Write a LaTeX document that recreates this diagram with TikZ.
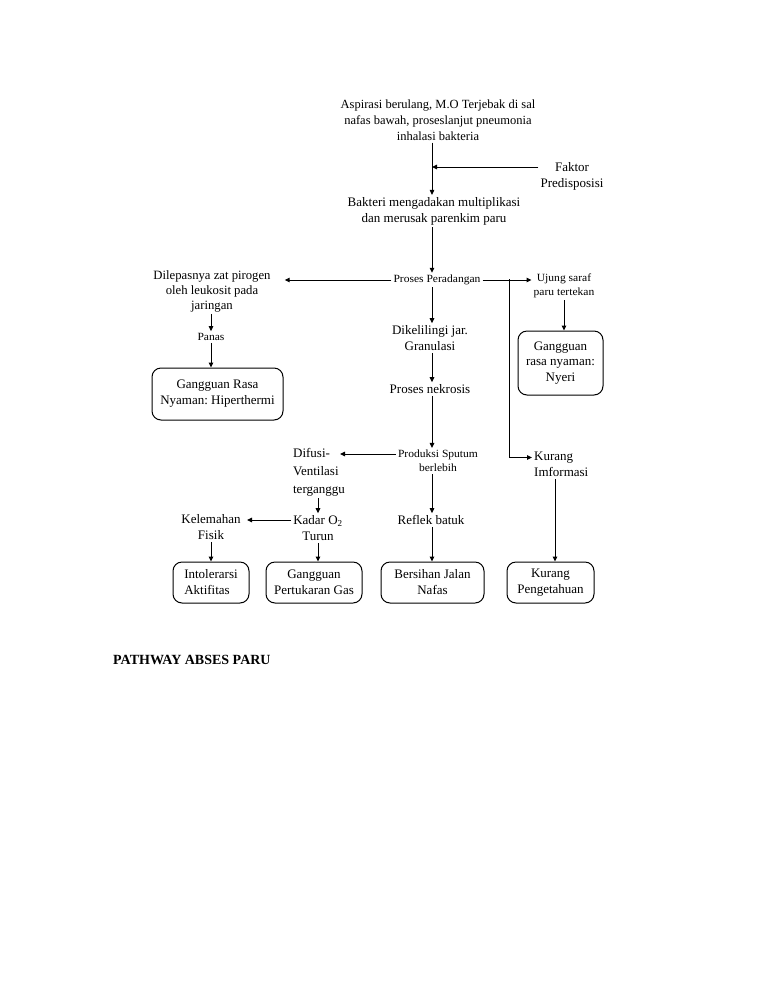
\documentclass[tikz,border=0pt]{standalone}
\usepackage{fontspec}
\setmainfont{Liberation Serif}
\newfontfamily\widefont[FakeStretch=1.05]{Liberation Serif}
\usetikzlibrary{arrows.meta}
\frenchspacing
\begin{document}
\begin{tikzpicture}[x=1pt,y=-1pt,
  txt/.style={align=center,font=\fontsize{13}{16}\selectfont,inner sep=2pt},
  sml/.style={align=center,font=\widefont\fontsize{11}{14}\selectfont,inner sep=2pt},
  rbox/.style={draw,rounded corners=9pt,line width=1pt,align=center,font=\fontsize{13}{16}\selectfont,minimum height=41pt,inner sep=2pt},
  arr/.style={line width=1pt,-{Triangle[length=5pt,width=4.5pt]}},
  ttl/.style={font=\bfseries\fontsize{14}{16}\selectfont,anchor=west,inner sep=0pt}]
\useasboundingbox (0,0) rectangle (768,994);
% helper coordinates
\coordinate (cx) at (432,0);
\coordinate (j1) at (432,167);
\coordinate (br) at (509,279);
\coordinate (d1) at (340,454);
\coordinate (k2) at (247,520);
\coordinate (k3) at (555,0);
% nodes
\node[txt,font=\fontsize{12.5}{16}\selectfont] (top) at (438,120) {Aspirasi berulang, M.O Terjebak di sal\\nafas bawah, proseslanjut pneumonia\\inhalasi bakteria};
\node[txt] (faktor) at (572,176) {Faktor\\Predisposisi};
\node[txt] (bakteri) at (434,211) {Bakteri mengadakan multiplikasi\\dan merusak parenkim paru};
\node[sml] (perad) at (437,280) {Proses Peradangan};
\node[txt,font=\fontsize{12.7}{15}\selectfont] (dilep) at (212,291) {Dilepasnya zat pirogen\\oleh leukosit pada\\jaringan};
\node[sml] (panas) at (211,337) {Panas};
\node[rbox,minimum width=131pt,minimum height=52pt] (hiper) at (217.5,394) {Gangguan Rasa\\Nyaman: Hiperthermi};
\node[sml] (ujung) at (564,286) {Ujung saraf\\paru tertekan};
\node[rbox,minimum width=85pt,minimum height=64pt,font=\fontsize{13}{15.5}\selectfont] (nyeri) at (560.5,363) {Gangguan\\rasa nyaman:\\Nyeri};
\node[txt] (dikel) at (430,338) {Dikelilingi jar.\\Granulasi};
\node[txt] (nekr) at (430,389) {Proses nekrosis};
\node[sml] (sputum) at (438,461) {Produksi Sputum\\berlebih};
\node[txt,align=left,font=\fontsize{13}{18}\selectfont] (difusi) at (319,472) {Difusi-\\Ventilasi\\terganggu};
\node[txt] (kadar) at (318,528) {Kadar O\textsubscript{2}\\Turun};
\node[txt] (kelem) at (211,527) {Kelemahan\\Fisik};
\node[txt] (reflek) at (431,520) {Reflek batuk};
\node[txt,align=left,anchor=west] (kurinf) at (532,464.5) {Kurang\\Imformasi};
\node[rbox,minimum width=76pt,align=left] (intol) at (211,582.5) {Intolerarsi\\Aktifitas};
\node[rbox,minimum width=96pt] (gpg) at (314,582.5) {Gangguan\\Pertukaran Gas};
\node[rbox,minimum width=103pt] (bjn) at (432.5,582.5) {Bersihan Jalan\\Nafas};
\node[rbox,minimum width=87pt] (kp) at (550.5,582.5) {Kurang\\Pengetahuan};
\node[ttl] (title) at (113,660) {PATHWAY ABSES PARU};
% connectors
\draw[arr] (top.south -| cx) -- (bakteri.north -| cx);
\draw[arr] (faktor.west |- j1) -- (j1);
\draw[arr] (bakteri.south -| cx) -- (perad.north -| cx);
\draw[arr] (perad.west) -- ([xshift=12pt]dilep.east |- perad.west);
\draw[arr] (dilep.south -| panas.north) -- (panas.north);
\draw[arr] (panas.south) -- (panas.south |- hiper.north);
\draw[arr] (perad.east) -- (ujung.west |- perad.east);
\draw[arr] (ujung.south) -- (ujung.south |- nyeri.north);
\draw[arr] (br) |- ([yshift=7pt]kurinf.west);
\draw[arr] (perad.south -| cx) -- (dikel.north -| cx);
\draw[arr] (dikel.south -| cx) -- (nekr.north -| cx);
\draw[arr] (nekr.south -| cx) -- (sputum.north -| cx);
\draw[arr] (sputum.west |- d1) -- (d1);
\draw[arr] (difusi.south -| kadar.north) -- (kadar.north);
\draw[arr] (kadar.west |- k2) -- (k2);
\draw[arr] (sputum.south -| cx) -- (reflek.north -| cx);
\draw[arr] (kelem.south) -- (kelem.south |- intol.north);
\draw[arr] (kadar.south) -- (kadar.south |- gpg.north);
\draw[arr] (reflek.south -| cx) -- (bjn.north -| cx);
\draw[arr] (kurinf.south -| k3) -- (kp.north -| k3);
\end{tikzpicture}
\end{document}
